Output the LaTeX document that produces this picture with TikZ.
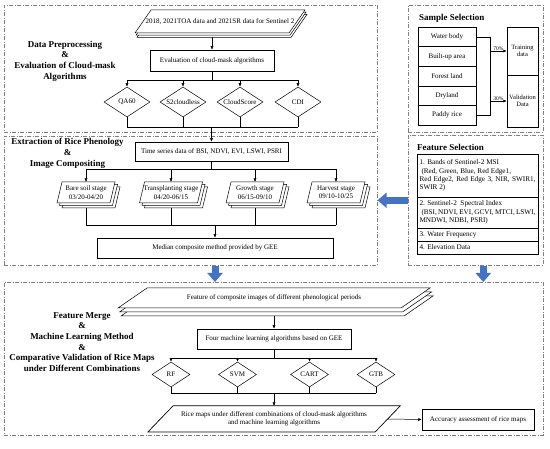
\documentclass[tikz,border=0pt]{standalone}
\usepackage{fontspec}
\setmainfont{Liberation Serif}
\usetikzlibrary{shapes.geometric,arrows.meta,calc}
\definecolor{barrowc}{HTML}{4472C4}
\definecolor{dashc}{HTML}{808080}
% name, cx, cy, w, h, slant, dx, dy, text
\newcommand\stackpara[9]{%
  \foreach \k in {2,1,0}{%
    \draw[parab, shift={(\k*#7,\k*#8)}] ({#2-#4/2},{#3+#5/2}) -- ({#2-#4/2+#6},{#3-#5/2}) -- ({#2+#4/2},{#3-#5/2}) -- ({#2+#4/2-#6},{#3+#5/2}) -- cycle;}
  \node[ptext] (#1) at (#2,#3) {#9};
  \coordinate (#1-n) at (#2,{#3-#5/2});
  \coordinate (#1-s) at (#2,{#3+#5/2+2*#8});
  \coordinate (#1-e) at ({#2+#4/2-#6/2},#3);
}
\begin{document}
\begin{tikzpicture}[x=1pt,y=-1pt,
 every node/.style={inner sep=0pt, font=\fontsize{7}{8.3}\selectfont},
 dbox/.style={draw=dashc, line width=0.6pt, dash pattern=on 4pt off 1.5pt on 1pt off 1.5pt, anchor=north west},
 ttl/.style={align=center, font=\fontsize{9}{10.7}\selectfont\bfseries},
 box/.style={draw, line width=0.5pt, align=center},
 dia/.style={draw, diamond, shape aspect=1.6, line width=0.5pt},
 parab/.style={draw, fill=white, line width=0.5pt},
 ptext/.style={align=center},
 conn/.style={line width=0.5pt},
 arr/.style={line width=0.5pt, -{Latex[length=3.5pt,width=3pt]}},
 barrow/.style={color=barrowc, line width=7pt, -{Triangle[length=9pt,width=15pt]}},
 pct/.style={font=\fontsize{5.5}{6}\selectfont, above=0.5pt},
 cell/.style={draw, line width=0.5pt, minimum width=58pt, minimum height=19.6pt},
 tcell/.style={draw, line width=0.5pt, minimum width=31pt, align=center, font=\fontsize{6.5}{7.5}\selectfont},
 fscell/.style={draw, line width=0.5pt, text width=116pt, inner xsep=2.5pt, align=justify, font=\fontsize{7.2}{8.4}\selectfont},
]
\useasboundingbox (0,0) rectangle (550,449);

% dashed frames
\node[dbox, minimum width=373pt, minimum height=127pt] (b1) at (4,5) {};
\node[dbox, minimum width=373pt, minimum height=129pt] (b2) at (4,136) {};
\node[dbox, minimum width=539pt, minimum height=153pt] (b3) at (4,282) {};
\node[dbox, minimum width=135pt, minimum height=127pt] (bs) at (408,5) {};
\node[dbox, minimum width=135pt, minimum height=130pt] (bf) at (408,135) {};

% titles
\node[ttl] (t1) at (65,61) {Data Preprocessing\\\&\\Evaluation of Cloud-mask\\Algorithms};
\node[ttl] (t2) at (67.5,153.5) {Extraction of Rice Phenology\\\&\\Image Compositing};
\node[ttl] (t3) at (82,342) {Feature Merge\\\&\\Machine Learning Method\\\&\\Comparative Validation of Rice Maps\\under Different Combinations};
\node[ttl, anchor=west] (t4) at (419,18) {Sample Selection};
\node[ttl, anchor=west] (t5) at (417,147) {Feature Selection};

% ---- box 1
\stackpara{data}{220}{21.5}{170}{23}{16}{1}{2.2}{2018, 2021TOA data and 2021SR data for Sentinel 2}
\node[box, minimum width=124pt, minimum height=21pt] (eval) at (212,60.5) {Evaluation of cloud-mask algorithms};
\draw[arr] (data-s -| eval.north) -- (eval.north);
\node[dia, minimum width=46pt, minimum height=30pt] (qa) at (127,102) {QA60};
\node[dia, minimum width=46pt, minimum height=30pt] (s2) at (183,102) {S2cloudless};
\node[dia, minimum width=46pt, minimum height=30pt] (cs) at (240,102) {CloudScore};
\node[dia, minimum width=46pt, minimum height=30pt] (cdi) at (298,102) {CDI};
\coordinate (bus1) at (212,80);
\coordinate (bus2) at (212,127);
\draw[conn] (eval.south) -- (bus1);
\draw[conn] (qa.north |- bus1) -- (cdi.north |- bus1);
\foreach \n in {qa,s2,cs,cdi}{
  \draw[arr] (\n.north |- bus1) -- (\n.north);
  \draw[conn] (\n.south) -- (\n.south |- bus2);
}
\draw[conn] (qa.south |- bus2) -- (cdi.south |- bus2);

% ---- box 2
\node[box, minimum width=153pt, minimum height=19pt] (ts) at (211.5,151.5) {Time series data of BSI, NDVI, EVI, LSWI, PSRI};
\draw[arr] (ts.north |- bus2) -- (ts.north);
\stackpara{st1}{86}{192.5}{58}{21}{5}{2.5}{2.5}{Bare soil stage\\03/20-04/20}
\stackpara{st2}{171}{192.5}{63}{21}{5}{2.5}{2.5}{Transplanting stage\\04/20-06/15}
\stackpara{st3}{255}{192.5}{58}{21}{5}{2.5}{2.5}{Growth stage\\06/15-09/10}
\stackpara{st4}{336}{192.5}{58}{21}{5}{2.5}{2.5}{Harvest stage\\09/10-10/25}
\node[box, minimum width=236pt, minimum height=20pt] (med) at (215,248) {Median composite method provided by GEE};
\coordinate (bus3) at (212,169);
\coordinate (bus4) at (212,225);
\draw[conn] (ts.south) -- (ts.south |- bus3);
\draw[conn] (st1-n |- bus3) -- (st4-n |- bus3);
\draw[conn] (st1-s |- bus4) -- (st4-s |- bus4);
\foreach \n in {st1,st2,st3,st4}{
  \draw[arr] (\n-n |- bus3) -- (\n-n);
  \draw[conn] (\n-s) -- (\n-s |- bus4);
}
\draw[arr] (med.north |- bus4) -- (med.north);

% ---- box 3
\stackpara{feat}{274}{298}{312}{20}{29}{1.5}{4}{Feature of composite images of different phenological periods}
\node[box, minimum width=154pt, minimum height=20pt] (ml) at (274,339) {Four machine learning algorithms based on GEE};
\draw[arr] (feat-s -| ml.north) -- (ml.north);
\node[dia, minimum width=38pt, minimum height=25pt] (rf) at (171,374.5) {RF};
\node[dia, minimum width=38pt, minimum height=25pt] (svm) at (237.5,374.5) {SVM};
\node[dia, minimum width=38pt, minimum height=25pt] (cart) at (309.5,374.5) {CART};
\node[dia, minimum width=38pt, minimum height=25pt] (gtb) at (376,374.5) {GTB};
\coordinate (bus5) at (274,358);
\coordinate (bus6) at (274,393);
\draw[conn] (ml.south) -- (bus5);
\draw[conn] (rf.north |- bus5) -- (gtb.north |- bus5);
\draw[conn] (rf.south |- bus6) -- (gtb.south |- bus6);
\foreach \n in {rf,svm,cart,gtb}{
  \draw[arr] (\n.north |- bus5) -- (\n.north);
  \draw[conn] (\n.south) -- (\n.south |- bus6);
}
\stackpara{rice}{274}{419}{252}{26}{25}{0}{0}{Rice maps under different combinations of cloud-mask algorithms\\and machine learning algorithms}
\draw[arr] (bus6) -- (rice-n);
\node[box, minimum width=112pt, minimum height=21pt] (acc) at (478,419.5) {Accuracy assessment of rice maps};
\draw[arr] (rice-e) -- (acc.west);

% ---- sample selection
\node[cell] (c1) at (447,36.8) {Water body};
\node[cell] (c2) at (447,56.4) {Built-up area};
\node[cell] (c3) at (447,76) {Forest land};
\node[cell] (c4) at (447,95.6) {Dryland};
\node[cell] (c5) at (447,115.2) {Paddy rice};
\node[tcell, minimum height=48pt] (tr) at (522.5,51) {Training\\data};
\node[tcell, minimum height=52pt] (va) at (522.5,101) {Validation\\Data};
\coordinate (bx) at (490,0);
\draw[conn] (c1.east) -- (c1.east -| bx) -- (c5.east -| bx) -- (c5.east);
\draw[arr] (tr.west -| bx) -- node[pct] (p70) {70\%} (tr.west);
\draw[arr] (va.west -| bx) -- node[pct] (p30) {30\%} (va.west);

% ---- feature selection
\node[fscell, minimum height=43pt] (f1) at (477.5,175.5) {1. Bands of Sentinel-2 MSI\\\hspace*{2pt}(Red, Green, Blue, Red Edge1,\\Red Edge2, Red Edge 3, NIR, SWIR1,\linebreak SWIR 2)};
\node[fscell, minimum height=31pt] (f2) at (477.5,212.5) {2. Sentinel-2~~Spectral Index\\\hspace*{2pt}(BSI, NDVI, EVI, GCVI, MTCI, LSWI,\linebreak MNDWI, NDBI, PSRI)};
\node[fscell, minimum height=13pt] (f3) at (477.5,234.5) {3. Water Frequency};
\node[fscell, minimum height=13pt] (f4) at (477.5,247.5) {4. Elevation Data};

% ---- blue arrows
\draw[barrow] (bf.west) -- (bf.west -| b2.east);
\draw[barrow] (med.south |- b2.south) -- (med.south |- b3.north);
\path (bf.south) ++(7.5,0) coordinate (bfd);
\draw[barrow] (bfd) -- (bfd |- b3.north);
\end{tikzpicture}
\end{document}
